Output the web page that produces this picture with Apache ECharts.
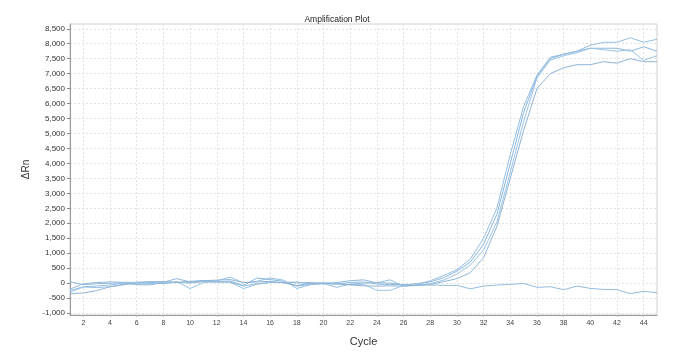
<!DOCTYPE html>
<html>
<head>
<meta charset="utf-8">
<script src="https://cdn.jsdelivr.net/npm/echarts@6/dist/echarts.min.js"></script>
<style>
  html, body { margin: 0; padding: 0; background: #fff; }
  #chart { width: 674px; height: 352px; }
</style>
</head>
<body>
<div id="chart"></div>
<script>
// cycles 1..45
const cycles = Array.from({ length: 45 }, (_, i) => i + 1);

// delta Rn per well
const wellA = [-250, -120, -100, -60, 0, -30, -20, 40, 20, 30, 60, 80, 200, 10, 60, 170, 100, -180, -50, -10, -140, -30, 0, 10, 110, -100, -50, 80,
  250, 450, 800, 1500, 2500, 4300, 5900, 6950, 7550, 7650, 7750, 7950, 8050, 8050, 8200, 8050, 8150];
const wellB = [50, -50, -20, 0, 10, -50, -60, 30, 150, 40, 90, 40, 70, -80, 170, 120, 60, -100, -40, -20, 20, 80, 110, 10, 0, -60, -20, 40,
  180, 400, 700, 1300, 2300, 4000, 5700, 6900, 7500, 7650, 7750, 7850, 7850, 7850, 7750, 7900, 7750];
const wellC = [-300, -130, -150, -120, -60, 0, 30, -10, 50, -180, 20, 60, 30, -180, -40, 30, 20, 40, -20, 20, -10, -50, -40, -240, -240, -80, -60, -20,
  100, 300, 600, 1100, 2050, 3700, 5400, 6850, 7450, 7600, 7700, 7850, 7800, 7750, 7800, 7450, 7600];
const wellD = [-350, -330, -250, -120, -40, 30, 50, 50, 20, 60, 80, 100, 120, 20, 40, 60, 10, -80, 10, -10, -30, -60, -90, -100, -90, -100, -80, -50,
  50, 150, 350, 850, 1900, 3500, 5100, 6500, 7000, 7200, 7300, 7300, 7400, 7350, 7500, 7400, 7400];
const wellNeg = [-200, -20, 20, 40, 30, 20, 10, -20, 40, 0, 50, 30, 40, -100, -20, 20, 30, 10, 20, -20, -30, 20, 40, -30, -50, -40, -70, -60,
  -75, -75, -190, -100, -65, -40, -10, -140, -120, -220, -100, -175, -210, -220, -350, -275, -320];

const xTicks = [2, 4, 6, 8, 10, 12, 14, 16, 18, 20, 22, 24, 26, 28, 30, 32, 34, 36, 38, 40, 42, 44];
const yTicks = [-1000, -500, 0, 500, 1000, 1500, 2000, 2500, 3000, 3500, 4000, 4500, 5000, 5500, 6000, 6500, 7000, 7500, 8000, 8500];

const wells = [wellA, wellB, wellC, wellD, wellNeg];
const lineColors = ['#94bfe2', '#8db7dc', '#9ac4e6', '#8fb4d6', '#94bbdc'];

const font = 'Liberation Sans, Arial, sans-serif';
const chart = echarts.init(document.getElementById('chart'));

chart.setOption({
  animation: false,
  backgroundColor: '#fff',
  title: {
    text: 'Amplification Plot',
    left: 'center',
    top: 10,
    textStyle: { fontSize: 8.5, fontWeight: 'normal', color: '#222', fontFamily: font }
  },
  grid: { left: 70, right: 17, top: 24, bottom: 33, show: true, borderColor: '#cfcfcf', borderWidth: 1 },
  xAxis: {
    type: 'value',
    min: 1,
    max: 45,
    name: 'Cycle',
    nameLocation: 'middle',
    nameGap: 21,
    nameTextStyle: { fontSize: 11, color: '#333', fontFamily: font },
    axisLine: { onZero: false, lineStyle: { color: '#999' } },
    axisTick: { show: true, customValues: xTicks, length: 2, lineStyle: { color: '#bbb' } },
    axisLabel: { customValues: xTicks, fontSize: 7, color: '#444', margin: 5, fontFamily: font },
    splitLine: { show: true, lineStyle: { color: '#e2e2e2', type: [2, 2] } }
  },
  yAxis: {
    type: 'value',
    min: -1065,
    max: 8660,
    name: 'ΔRn',
    nameLocation: 'middle',
    nameGap: 37,
    nameTextStyle: { fontSize: 10, color: '#333', fontFamily: font },
    axisLine: { show: true, onZero: false, lineStyle: { color: '#999' } },
    axisTick: { show: true, customValues: yTicks, length: 3, lineStyle: { color: '#888' } },
    axisLabel: {
      customValues: yTicks,
      fontSize: 8,
      color: '#333',
      margin: 5,
      fontFamily: font,
      formatter: v => v.toLocaleString('en-US')
    },
    splitLine: { show: true, lineStyle: { color: '#e2e2e2', type: [2, 2] } }
  },
  series: wells.map((w, i) => ({
    type: 'line',
    data: cycles.map((c, j) => [c, w[j]]),
    showSymbol: false,
    symbol: 'none',
    lineStyle: { width: 1, color: lineColors[i] },
    silent: true
  }))
});
</script>
</body>
</html>
